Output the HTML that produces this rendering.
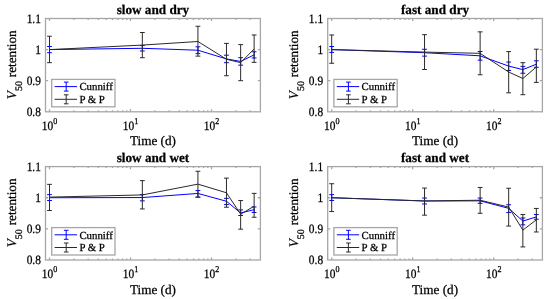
<!DOCTYPE html>
<html><head><meta charset="utf-8"><style>
html,body{margin:0;padding:0;background:#fff;}
svg{display:block;filter:blur(0.3px);}
text{font-family:"Liberation Serif",serif;fill:#000;text-rendering:geometricPrecision;stroke:#000;stroke-width:0.25px;}
.tk{font-size:12px;}
.sup{font-size:8.5px;}
.sub{font-size:10px;}
.lbv{font-size:13.2px;font-style:italic;}
.lb{font-size:13.2px;}
.tt{font-size:13.2px;font-weight:bold;}
.lg{font-size:10.8px;}
</style></head><body>
<svg width="550" height="299" viewBox="0 0 550 299">
<rect width="550" height="299" fill="#fff"/>
<path d="M49.5 111.8v-2.6M49.5 18.5v2.6M73.88 111.8v-1.5M73.88 18.5v1.5M88.15 111.8v-1.5M88.15 18.5v1.5M98.27 111.8v-1.5M98.27 18.5v1.5M106.12 111.8v-1.5M106.12 18.5v1.5M112.53 111.8v-1.5M112.53 18.5v1.5M117.95 111.8v-1.5M117.95 18.5v1.5M122.65 111.8v-1.5M122.65 18.5v1.5M126.79 111.8v-1.5M126.79 18.5v1.5M130.5 111.8v-2.6M130.5 18.5v2.6M154.88 111.8v-1.5M154.88 18.5v1.5M169.15 111.8v-1.5M169.15 18.5v1.5M179.27 111.8v-1.5M179.27 18.5v1.5M187.12 111.8v-1.5M187.12 18.5v1.5M193.53 111.8v-1.5M193.53 18.5v1.5M198.95 111.8v-1.5M198.95 18.5v1.5M203.65 111.8v-1.5M203.65 18.5v1.5M207.79 111.8v-1.5M207.79 18.5v1.5M211.5 111.8v-2.6M211.5 18.5v2.6M235.88 111.8v-1.5M235.88 18.5v1.5M250.15 111.8v-1.5M250.15 18.5v1.5M45.5 80.7h2.6M260.4 80.7h-2.6M45.5 49.6h2.6M260.4 49.6h-2.6" stroke="#a6a6a6" stroke-width="1.3" fill="none"/>
<path d="M49.5 49.6 L142.34 48.29 L197.93 50.22 L226.46 58.93 L240.65 61.42 L254.13 54.89 M49.5 52.71V46.49M47.1 52.71h4.8M47.1 46.49h4.8M142.34 51V45.56M139.94 51h4.8M139.94 45.56h4.8M197.93 53.64V46.8M195.53 53.64h4.8M195.53 46.8h4.8M226.46 62.66V55.2M224.06 62.66h4.8M224.06 55.2h4.8M240.65 65.15V57.69M238.25 65.15h4.8M238.25 57.69h4.8M254.13 58V51.78M251.73 58h4.8M251.73 51.78h4.8" stroke="#0000ff" stroke-width="1.0" fill="none" stroke-linejoin="round"/>
<path d="M49.5 49.6 L142.34 45.09 L197.93 41.51 L226.46 59.24 L240.65 62.66 L254.13 48.98 M49.5 62.66V36.23M47.1 62.66h4.8M47.1 36.23h4.8M142.34 57.69V32.5M139.94 57.69h4.8M139.94 32.5h4.8M197.93 56.13V26.28M195.53 56.13h4.8M195.53 26.28h4.8M226.46 75.72V43.38M224.06 75.72h4.8M224.06 43.38h4.8M240.65 80.7V44.62M238.25 80.7h4.8M238.25 44.62h4.8M254.13 62.35V34.98M251.73 62.35h4.8M251.73 34.98h4.8" stroke="#2a2a2a" stroke-width="1.0" fill="none" stroke-linejoin="round"/>
<rect x="45.5" y="18.5" width="214.9" height="93.3" fill="none" stroke="#a6a6a6" stroke-width="1.3"/>
<text transform="translate(40.9 116.1) scale(0.95 1.06)" text-anchor="end" class="tk">0.8</text>
<text transform="translate(40.9 85) scale(0.95 1.06)" text-anchor="end" class="tk">0.9</text>
<text transform="translate(40.9 53.9) scale(0.95 1.06)" text-anchor="end" class="tk">1</text>
<text transform="translate(40.9 22.8) scale(0.95 1.06)" text-anchor="end" class="tk">1.1</text>
<text transform="translate(41.85 130.2) scale(0.95 1.06)" class="tk">10<tspan class="sup" dy="-5.7">0</tspan></text>
<text transform="translate(122.85 130.2) scale(0.95 1.06)" class="tk">10<tspan class="sup" dy="-5.7">1</tspan></text>
<text transform="translate(203.85 130.2) scale(0.95 1.06)" class="tk">10<tspan class="sup" dy="-5.7">2</tspan></text>
<text x="152.95" y="145.4" text-anchor="middle" class="lb">Time (d)</text>
<text x="152.95" y="13.9" text-anchor="middle" class="tt">slow and dry</text>
<text transform="translate(15.7 99.2) rotate(-90)" class="lbv">V</text>
<text transform="translate(21.5 91) rotate(-90)" class="sub">50</text>
<text transform="translate(15.8 77.2) rotate(-90)" class="lb">retention</text>
<rect x="51.7" y="79.4" width="63.3" height="27.4" fill="#fff" stroke="#a6a6a6" stroke-width="1.3"/>
<path d="M54.6 86.6h22.4M66.2 82.1v9M63.9 82.1h4.6M63.9 91.1h4.6" stroke="#0000ff" stroke-width="1.0" fill="none"/>
<text x="79.4" y="90.35" class="lg">Cunniff</text>
<path d="M54.6 99.3h22.4M66.2 94.8v9M63.9 94.8h4.6M63.9 103.8h4.6" stroke="#2a2a2a" stroke-width="1.0" fill="none"/>
<text x="79.4" y="103.05" class="lg">P &amp; P</text>
<path d="M331.7 111.8v-2.6M331.7 18.5v2.6M356.08 111.8v-1.5M356.08 18.5v1.5M370.35 111.8v-1.5M370.35 18.5v1.5M380.47 111.8v-1.5M380.47 18.5v1.5M388.32 111.8v-1.5M388.32 18.5v1.5M394.73 111.8v-1.5M394.73 18.5v1.5M400.15 111.8v-1.5M400.15 18.5v1.5M404.85 111.8v-1.5M404.85 18.5v1.5M408.99 111.8v-1.5M408.99 18.5v1.5M412.7 111.8v-2.6M412.7 18.5v2.6M437.08 111.8v-1.5M437.08 18.5v1.5M451.35 111.8v-1.5M451.35 18.5v1.5M461.47 111.8v-1.5M461.47 18.5v1.5M469.32 111.8v-1.5M469.32 18.5v1.5M475.73 111.8v-1.5M475.73 18.5v1.5M481.15 111.8v-1.5M481.15 18.5v1.5M485.85 111.8v-1.5M485.85 18.5v1.5M489.99 111.8v-1.5M489.99 18.5v1.5M493.7 111.8v-2.6M493.7 18.5v2.6M518.08 111.8v-1.5M518.08 18.5v1.5M532.35 111.8v-1.5M532.35 18.5v1.5M327.7 80.7h2.6M542.4 80.7h-2.6M327.7 49.6h2.6M542.4 49.6h-2.6" stroke="#a6a6a6" stroke-width="1.3" fill="none"/>
<path d="M331.7 49.6 L424.54 52.71 L480.13 55.82 L508.66 66.08 L522.85 69.6 L536.33 64.22 M331.7 52.4V46.49M329.3 52.4h4.8M329.3 46.49h4.8M424.54 56.13V49.29M422.14 56.13h4.8M422.14 49.29h4.8M480.13 60.17V51.47M477.73 60.17h4.8M477.73 51.47h4.8M508.66 70.44V62.04M506.26 70.44h4.8M506.26 62.04h4.8M522.85 73.24V66.39M520.45 73.24h4.8M520.45 66.39h4.8M536.33 67.33V60.8M533.93 67.33h4.8M533.93 60.8h4.8" stroke="#0000ff" stroke-width="1.0" fill="none" stroke-linejoin="round"/>
<path d="M331.7 49.6 L424.54 52.09 L480.13 53.33 L508.66 71.99 L522.85 78.52 L536.33 67.02 M331.7 63.28V34.98M329.3 63.28h4.8M329.3 34.98h4.8M424.54 69.5V34.67M422.14 69.5h4.8M422.14 34.67h4.8M480.13 74.79V31.87M477.73 74.79h4.8M477.73 31.87h4.8M508.66 92.83V51.59M506.26 92.83h4.8M506.26 51.59h4.8M522.85 94.7V62.66M520.45 94.7h4.8M520.45 62.66h4.8M536.33 82.41V49.2M533.93 82.41h4.8M533.93 49.2h4.8" stroke="#2a2a2a" stroke-width="1.0" fill="none" stroke-linejoin="round"/>
<rect x="327.7" y="18.5" width="214.7" height="93.3" fill="none" stroke="#a6a6a6" stroke-width="1.3"/>
<text transform="translate(323.1 116.1) scale(0.95 1.06)" text-anchor="end" class="tk">0.8</text>
<text transform="translate(323.1 85) scale(0.95 1.06)" text-anchor="end" class="tk">0.9</text>
<text transform="translate(323.1 53.9) scale(0.95 1.06)" text-anchor="end" class="tk">1</text>
<text transform="translate(323.1 22.8) scale(0.95 1.06)" text-anchor="end" class="tk">1.1</text>
<text transform="translate(324.05 130.2) scale(0.95 1.06)" class="tk">10<tspan class="sup" dy="-5.7">0</tspan></text>
<text transform="translate(405.05 130.2) scale(0.95 1.06)" class="tk">10<tspan class="sup" dy="-5.7">1</tspan></text>
<text transform="translate(486.05 130.2) scale(0.95 1.06)" class="tk">10<tspan class="sup" dy="-5.7">2</tspan></text>
<text x="435.05" y="145.4" text-anchor="middle" class="lb">Time (d)</text>
<text x="435.05" y="13.9" text-anchor="middle" class="tt">fast and dry</text>
<text transform="translate(297.9 99.2) rotate(-90)" class="lbv">V</text>
<text transform="translate(303.7 91) rotate(-90)" class="sub">50</text>
<text transform="translate(298 77.2) rotate(-90)" class="lb">retention</text>
<rect x="333.9" y="79.4" width="63.3" height="27.4" fill="#fff" stroke="#a6a6a6" stroke-width="1.3"/>
<path d="M336.8 86.6h22.4M348.4 82.1v9M346.1 82.1h4.6M346.1 91.1h4.6" stroke="#0000ff" stroke-width="1.0" fill="none"/>
<text x="361.6" y="90.35" class="lg">Cunniff</text>
<path d="M336.8 99.3h22.4M348.4 94.8v9M346.1 94.8h4.6M346.1 103.8h4.6" stroke="#2a2a2a" stroke-width="1.0" fill="none"/>
<text x="361.6" y="103.05" class="lg">P &amp; P</text>
<path d="M49.5 260v-2.6M49.5 166.6v2.6M73.88 260v-1.5M73.88 166.6v1.5M88.15 260v-1.5M88.15 166.6v1.5M98.27 260v-1.5M98.27 166.6v1.5M106.12 260v-1.5M106.12 166.6v1.5M112.53 260v-1.5M112.53 166.6v1.5M117.95 260v-1.5M117.95 166.6v1.5M122.65 260v-1.5M122.65 166.6v1.5M126.79 260v-1.5M126.79 166.6v1.5M130.5 260v-2.6M130.5 166.6v2.6M154.88 260v-1.5M154.88 166.6v1.5M169.15 260v-1.5M169.15 166.6v1.5M179.27 260v-1.5M179.27 166.6v1.5M187.12 260v-1.5M187.12 166.6v1.5M193.53 260v-1.5M193.53 166.6v1.5M198.95 260v-1.5M198.95 166.6v1.5M203.65 260v-1.5M203.65 166.6v1.5M207.79 260v-1.5M207.79 166.6v1.5M211.5 260v-2.6M211.5 166.6v2.6M235.88 260v-1.5M235.88 166.6v1.5M250.15 260v-1.5M250.15 166.6v1.5M45.5 228.87h2.6M260.4 228.87h-2.6M45.5 197.73h2.6M260.4 197.73h-2.6" stroke="#a6a6a6" stroke-width="1.3" fill="none"/>
<path d="M49.5 197.73 L142.34 197.55 L197.93 193.44 L226.46 201.25 L240.65 212.99 L254.13 209.66 M49.5 200.54V194.62M47.1 200.54h4.8M47.1 194.62h4.8M142.34 200.85V194.62M139.94 200.85h4.8M139.94 194.62h4.8M197.93 197.11V190.57M195.53 197.11h4.8M195.53 190.57h4.8M226.46 204.58V198.36M224.06 204.58h4.8M224.06 198.36h4.8M240.65 215.48V209.88M238.25 215.48h4.8M238.25 209.88h4.8M254.13 212.46V206.95M251.73 212.46h4.8M251.73 206.95h4.8" stroke="#0000ff" stroke-width="1.0" fill="none" stroke-linejoin="round"/>
<path d="M49.5 197.11 L142.34 194.93 L197.93 184.13 L226.46 192.75 L240.65 214.23 L254.13 206.23 M49.5 210.5V184.35M47.1 210.5h4.8M47.1 184.35h4.8M142.34 208.94V180.61M139.94 208.94h4.8M139.94 180.61h4.8M197.93 197.24V171.27M195.53 197.24h4.8M195.53 171.27h4.8M226.46 207.23V178.12M224.06 207.23h4.8M224.06 178.12h4.8M240.65 229.18V200.54M238.25 229.18h4.8M238.25 200.54h4.8M254.13 217.25V193.37M251.73 217.25h4.8M251.73 193.37h4.8" stroke="#2a2a2a" stroke-width="1.0" fill="none" stroke-linejoin="round"/>
<rect x="45.5" y="166.6" width="214.9" height="93.4" fill="none" stroke="#a6a6a6" stroke-width="1.3"/>
<text transform="translate(40.9 264.3) scale(0.95 1.06)" text-anchor="end" class="tk">0.8</text>
<text transform="translate(40.9 233.17) scale(0.95 1.06)" text-anchor="end" class="tk">0.9</text>
<text transform="translate(40.9 202.03) scale(0.95 1.06)" text-anchor="end" class="tk">1</text>
<text transform="translate(40.9 170.9) scale(0.95 1.06)" text-anchor="end" class="tk">1.1</text>
<text transform="translate(41.85 278.4) scale(0.95 1.06)" class="tk">10<tspan class="sup" dy="-5.7">0</tspan></text>
<text transform="translate(122.85 278.4) scale(0.95 1.06)" class="tk">10<tspan class="sup" dy="-5.7">1</tspan></text>
<text transform="translate(203.85 278.4) scale(0.95 1.06)" class="tk">10<tspan class="sup" dy="-5.7">2</tspan></text>
<text x="152.95" y="293.6" text-anchor="middle" class="lb">Time (d)</text>
<text x="152.95" y="162" text-anchor="middle" class="tt">slow and wet</text>
<text transform="translate(15.7 247.35) rotate(-90)" class="lbv">V</text>
<text transform="translate(21.5 239.15) rotate(-90)" class="sub">50</text>
<text transform="translate(15.8 225.35) rotate(-90)" class="lb">retention</text>
<rect x="51.7" y="227.6" width="63.3" height="27.4" fill="#fff" stroke="#a6a6a6" stroke-width="1.3"/>
<path d="M54.6 234.8h22.4M66.2 230.3v9M63.9 230.3h4.6M63.9 239.3h4.6" stroke="#0000ff" stroke-width="1.0" fill="none"/>
<text x="79.4" y="238.55" class="lg">Cunniff</text>
<path d="M54.6 247.5h22.4M66.2 243v9M63.9 243h4.6M63.9 252h4.6" stroke="#2a2a2a" stroke-width="1.0" fill="none"/>
<text x="79.4" y="251.25" class="lg">P &amp; P</text>
<path d="M331.7 260v-2.6M331.7 166.6v2.6M356.08 260v-1.5M356.08 166.6v1.5M370.35 260v-1.5M370.35 166.6v1.5M380.47 260v-1.5M380.47 166.6v1.5M388.32 260v-1.5M388.32 166.6v1.5M394.73 260v-1.5M394.73 166.6v1.5M400.15 260v-1.5M400.15 166.6v1.5M404.85 260v-1.5M404.85 166.6v1.5M408.99 260v-1.5M408.99 166.6v1.5M412.7 260v-2.6M412.7 166.6v2.6M437.08 260v-1.5M437.08 166.6v1.5M451.35 260v-1.5M451.35 166.6v1.5M461.47 260v-1.5M461.47 166.6v1.5M469.32 260v-1.5M469.32 166.6v1.5M475.73 260v-1.5M475.73 166.6v1.5M481.15 260v-1.5M481.15 166.6v1.5M485.85 260v-1.5M485.85 166.6v1.5M489.99 260v-1.5M489.99 166.6v1.5M493.7 260v-2.6M493.7 166.6v2.6M518.08 260v-1.5M518.08 166.6v1.5M532.35 260v-1.5M532.35 166.6v1.5M327.7 228.87h2.6M542.4 228.87h-2.6M327.7 197.73h2.6M542.4 197.73h-2.6" stroke="#a6a6a6" stroke-width="1.3" fill="none"/>
<path d="M331.7 197.73 L424.54 201 L480.13 200.85 L508.66 208.32 L522.85 221.08 L536.33 216.88 M331.7 200.54V194.62M329.3 200.54h4.8M329.3 194.62h4.8M424.54 203.96V198.04M422.14 203.96h4.8M422.14 198.04h4.8M480.13 203.34V198.04M477.73 203.34h4.8M477.73 198.04h4.8M508.66 212.55V204.74M506.26 212.55h4.8M506.26 204.74h4.8M522.85 224.82V217.97M520.45 224.82h4.8M520.45 217.97h4.8M536.33 219.22V214.55M533.93 219.22h4.8M533.93 214.55h4.8" stroke="#0000ff" stroke-width="1.0" fill="none" stroke-linejoin="round"/>
<path d="M331.7 197.73 L424.54 200.94 L480.13 200.22 L508.66 207.07 L522.85 230.11 L536.33 219.84 M331.7 211.56V183.72M329.3 211.56h4.8M329.3 183.72h4.8M424.54 215.17V188.08M422.14 215.17h4.8M422.14 188.08h4.8M480.13 213.3V187.46M477.73 213.3h4.8M477.73 187.46h4.8M508.66 226.06V188.24M506.26 226.06h4.8M506.26 188.24h4.8M522.85 246.92V214.55M520.45 246.92h4.8M520.45 214.55h4.8M536.33 231.98V208.44M533.93 231.98h4.8M533.93 208.44h4.8" stroke="#2a2a2a" stroke-width="1.0" fill="none" stroke-linejoin="round"/>
<rect x="327.7" y="166.6" width="214.7" height="93.4" fill="none" stroke="#a6a6a6" stroke-width="1.3"/>
<text transform="translate(323.1 264.3) scale(0.95 1.06)" text-anchor="end" class="tk">0.8</text>
<text transform="translate(323.1 233.17) scale(0.95 1.06)" text-anchor="end" class="tk">0.9</text>
<text transform="translate(323.1 202.03) scale(0.95 1.06)" text-anchor="end" class="tk">1</text>
<text transform="translate(323.1 170.9) scale(0.95 1.06)" text-anchor="end" class="tk">1.1</text>
<text transform="translate(324.05 278.4) scale(0.95 1.06)" class="tk">10<tspan class="sup" dy="-5.7">0</tspan></text>
<text transform="translate(405.05 278.4) scale(0.95 1.06)" class="tk">10<tspan class="sup" dy="-5.7">1</tspan></text>
<text transform="translate(486.05 278.4) scale(0.95 1.06)" class="tk">10<tspan class="sup" dy="-5.7">2</tspan></text>
<text x="435.05" y="293.6" text-anchor="middle" class="lb">Time (d)</text>
<text x="435.05" y="162" text-anchor="middle" class="tt">fast and wet</text>
<text transform="translate(297.9 247.35) rotate(-90)" class="lbv">V</text>
<text transform="translate(303.7 239.15) rotate(-90)" class="sub">50</text>
<text transform="translate(298 225.35) rotate(-90)" class="lb">retention</text>
<rect x="333.9" y="227.6" width="63.3" height="27.4" fill="#fff" stroke="#a6a6a6" stroke-width="1.3"/>
<path d="M336.8 234.8h22.4M348.4 230.3v9M346.1 230.3h4.6M346.1 239.3h4.6" stroke="#0000ff" stroke-width="1.0" fill="none"/>
<text x="361.6" y="238.55" class="lg">Cunniff</text>
<path d="M336.8 247.5h22.4M348.4 243v9M346.1 243h4.6M346.1 252h4.6" stroke="#2a2a2a" stroke-width="1.0" fill="none"/>
<text x="361.6" y="251.25" class="lg">P &amp; P</text>
</svg>
</body></html>
